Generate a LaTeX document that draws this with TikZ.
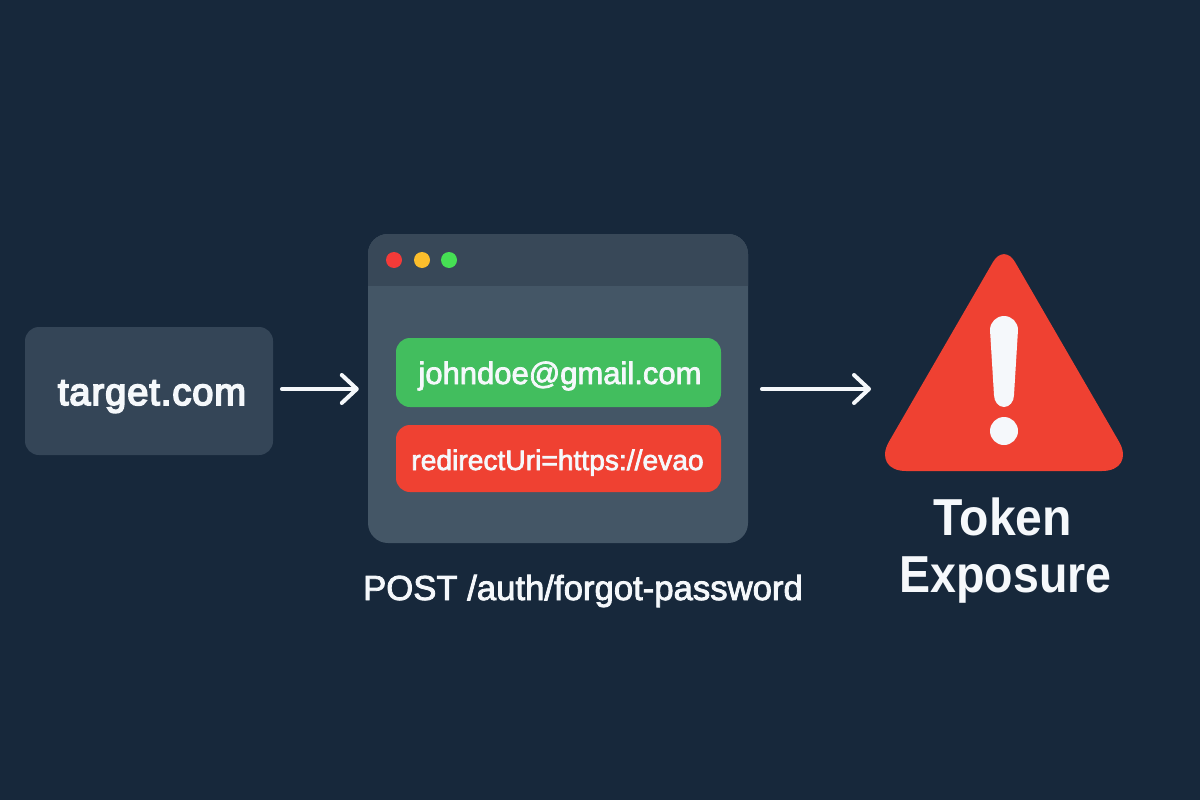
\documentclass[tikz,border=0pt]{standalone}
\usepackage{fontspec}
\setmainfont{Liberation Sans}
\newfontfamily\medf{Liberation Sans}[RawFeature={embolden=2.4}]
\newfontfamily\semif{Liberation Sans}[RawFeature={embolden=4.5},LetterSpace=2.5]
\newfontfamily\hva{Liberation Sans Bold}[FakeStretch=0.925]
\newfontfamily\hvb{Liberation Sans Bold}[FakeStretch=0.895]
\usetikzlibrary{arrows.meta}
\definecolor{bgc}{HTML}{17283B}
\definecolor{cardc}{HTML}{344557}
\definecolor{winc}{HTML}{445666}
\definecolor{headc}{HTML}{384858}
\definecolor{goodc}{HTML}{42BE5E}
\definecolor{badc}{HTML}{EF4132}
\definecolor{inkc}{HTML}{F5F8FB}
\tikzset{
  txt/.style={text=inkc,anchor=base,inner sep=0pt},
  card/.style={fill=cardc,rounded corners=14pt,draw=none,inner sep=0pt},
  field/.style={rounded corners=14pt,draw=none,inner sep=0pt,minimum width=325pt},
  wind/.style={fill=winc,rounded corners=20pt,draw=none,inner sep=0pt,minimum width=380pt,minimum height=309pt},
  dotn/.style={circle,inner sep=0pt,minimum size=16pt},
  link/.style={draw=inkc,line width=4.5pt,line cap=round,-{Straight Barb[length=15pt,width=28pt,round,line width=4pt]}}
}
\begin{document}
\begin{tikzpicture}[x=1pt,y=-1pt]
\useasboundingbox (0,0) rectangle (1200,800);
\fill[bgc] (0,0) rectangle (1200,800);
% source card
\node[card,minimum width=248pt,minimum height=128pt] (target) at (149,391) {};
\node[txt,font=\semif\fontsize{38}{38}\selectfont] (targettxt) at (152,405) {target.com};
% window
\node[wind] (win) at (558,388.5) {};
\begin{scope}
\clip (368,234) rectangle (748,285);
\fill[headc,rounded corners=20pt] (368,234) rectangle (748,320);
\end{scope}
\node[dotn,fill={rgb,255:red,244;green,58;blue,56}] (d1) at (394,260) {};
\node[dotn,fill={rgb,255:red,252;green,190;blue,44}] (d2) at (422,260) {};
\node[dotn,fill={rgb,255:red,70;green,224;blue,84}] (d3) at (449,260) {};
\node[field,fill=goodc,minimum height=69pt] (mail) at (558.5,372.5) {};
\node[txt,font=\medf\fontsize{31}{31}\selectfont] (mailtxt) at (560,384) {johndoe@gmail.com};
\node[field,fill=badc,minimum height=67pt] (redir) at (558.5,458.5) {};
\node[txt,font=\medf\fontsize{28.2}{28.2}\selectfont] (redirtxt) at (557.5,470) {redirectUri=https://evao};
\node[txt,font=\medf\fontsize{34.7}{34.7}\selectfont] (post) at (583,600) {POST /auth/forgot-password};
% warning
\fill[badc] (1004,471) [rounded corners=34pt] -- (1136,471) [rounded corners=22pt] -- (1004,243) [rounded corners=34pt] -- (872,471) -- cycle;
\coordinate (warn) at (885,389);
\fill[inkc] (990,330) arc[start angle=180,end angle=360,radius=14] -- (1014,395) arc[start angle=0,end angle=180,x radius=10,y radius=12] -- cycle;
\node[circle,fill=inkc,inner sep=0pt,minimum size=28pt] (dot) at (1004,431) {};
\node[txt,font=\hva\fontsize{52}{52}\selectfont] (tok) at (1003,535) {Token};
\node[txt,font=\hvb\fontsize{52}{52}\selectfont] (exp) at (1005.5,592) {Exposure};
% connectors
\draw[link,shorten <=9pt,shorten >=9pt] ([yshift=2pt]target.east) -- ([yshift=-.5pt]win.west);
\draw[link,shorten <=14pt,shorten >=14pt] ([yshift=-.5pt]win.east) -- (warn);
\end{tikzpicture}
\end{document}
